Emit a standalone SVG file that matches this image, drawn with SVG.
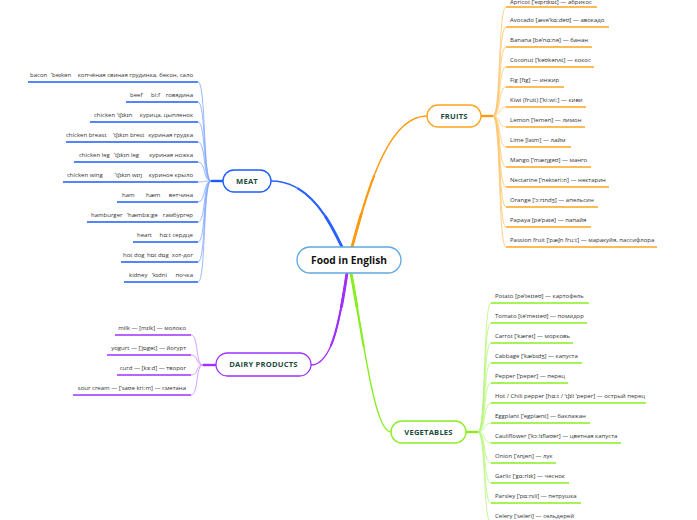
<svg xmlns="http://www.w3.org/2000/svg" width="697" height="520" viewBox="0 0 697 520">
<style>
text{font-family:"Open Sans","Noto Sans","DejaVu Sans",sans-serif;}
.leaf{font-size:6px;fill:#333;}
.cat{font-size:7.6px;font-weight:bold;fill:#1b4d3e;text-anchor:middle;letter-spacing:0.2px;}
.root{font-size:10.2px;font-weight:bold;fill:#111;text-anchor:middle;}
.node{fill:#fff;stroke-width:1.3;}
.fr{stroke:#ffa41c;}
.ve{stroke:#88ee22;}
.me{stroke:#1a5cff;}
.da{stroke:#a030ff;}
.ul{fill:none;stroke-width:1.4;}
.lc{fill:none;stroke-width:0.8;}
.end{text-anchor:end;}
.t1{stroke-dasharray:35 1000;stroke-width:2.8;}
.t2{stroke-dasharray:75 1000;stroke-width:2.1;}
.t3{stroke-width:1.4;}
</style>
<defs>
  <path id="cMeat" d="M342,247 C330,222 310,181 271,181"/>
  <path id="cFruit" d="M352,247 C370,180 390,116 427,116"/>
  <path id="cDairy" d="M347,273 C340,320 332,365 311,365"/>
  <path id="cVeg" d="M351,273 C365,350 375,432 391,432"/>
</defs>
<rect width="697" height="520" fill="#fff"/>
<g id="connectors" fill="none">
  <g stroke="#2a62ff"><use href="#cMeat" class="t1"/><use href="#cMeat" class="t2"/><use href="#cMeat" class="t3"/></g>
  <g stroke="#ff9a10"><use href="#cFruit" class="t1"/><use href="#cFruit" class="t2"/><use href="#cFruit" class="t3"/></g>
  <g stroke="#a030ff"><use href="#cDairy" class="t1"/><use href="#cDairy" class="t2"/><use href="#cDairy" class="t3"/></g>
  <g stroke="#88ee22"><use href="#cVeg" class="t1"/><use href="#cVeg" class="t2"/><use href="#cVeg" class="t3"/></g>
  <!-- hubs -->
  <path d="M481,116 H493" stroke="#ff9a10" stroke-width="2.4"/>
  <path d="M466,432 H478" stroke="#88ee22" stroke-width="2.4"/>
  <path d="M223,181 H211" stroke="#1a5cff" stroke-width="2.4"/>
  <path d="M216,365 H203" stroke="#a030ff" stroke-width="2.4"/>
  <!-- fruit leaves -->
  <g stroke="#ffc46a" class="lc">
    <path d="M493,116 C501,116 498,7 506,7"/>
    <path d="M493,116 C501,116 498,27 506,27"/>
    <path d="M493,116 C501,116 498,47 506,47"/>
    <path d="M493,116 C501,116 498,67 506,67"/>
    <path d="M493,116 C501,116 498,87 506,87"/>
    <path d="M493,116 C501,116 498,107 506,107"/>
    <path d="M493,116 C501,116 498,127 506,127"/>
    <path d="M493,116 C501,116 498,147 506,147"/>
    <path d="M493,116 C501,116 498,167 506,167"/>
    <path d="M493,116 C501,116 498,187 506,187"/>
    <path d="M493,116 C501,116 498,207 506,207"/>
    <path d="M493,116 C501,116 498,227 506,227"/>
    <path d="M493,116 C501,116 498,247 506,247"/>
  </g>
  <g stroke="#ffa41c" class="ul">
    <path d="M506,7 H597"/><path d="M506,27 H609"/><path d="M506,47 H592"/><path d="M506,67 H594"/>
    <path d="M506,87 H564"/><path d="M506,107 H586"/><path d="M506,127 H585"/><path d="M506,147 H571"/>
    <path d="M506,167 H591"/><path d="M506,187 H609"/><path d="M506,207 H598"/><path d="M506,227 H591"/>
    <path d="M506,247 H657"/>
  </g>
  <!-- vegetable leaves -->
  <g stroke="#b6f57a" class="lc">
    <path d="M478,432 C486,432 483,303 491,303"/>
    <path d="M478,432 C486,432 483,323 491,323"/>
    <path d="M478,432 C486,432 483,343 491,343"/>
    <path d="M478,432 C486,432 483,363 491,363"/>
    <path d="M478,432 C486,432 483,383 491,383"/>
    <path d="M478,432 C486,432 483,403 491,403"/>
    <path d="M478,432 C486,432 483,423 491,423"/>
    <path d="M478,432 C486,432 483,443 491,443"/>
    <path d="M478,432 C486,432 483,463 491,463"/>
    <path d="M478,432 C486,432 483,483 491,483"/>
    <path d="M478,432 C486,432 483,503 491,503"/>
    <path d="M478,432 C486,432 483,523 491,523"/>
  </g>
  <g stroke="#88ee22" class="ul">
    <path d="M491,303 H589"/><path d="M491,323 H587"/><path d="M491,343 H573"/><path d="M491,363 H582"/>
    <path d="M491,383 H568"/><path d="M491,403 H646"/><path d="M491,423 H590"/><path d="M491,443 H621"/>
    <path d="M491,463 H556"/><path d="M491,483 H569"/><path d="M491,503 H581"/><path d="M491,523 H584"/>
  </g>
  <!-- meat leaves -->
  <g stroke="#7ea6ff" class="lc">
    <path d="M211,181 C203,181 206,82 198,82"/>
    <path d="M211,181 C203,181 206,102 198,102"/>
    <path d="M211,181 C203,181 206,122 198,122"/>
    <path d="M211,181 C203,181 206,142 198,142"/>
    <path d="M211,181 C203,181 206,162 198,162"/>
    <path d="M211,181 C203,181 206,182 198,182"/>
    <path d="M211,181 C203,181 206,202 198,202"/>
    <path d="M211,181 C203,181 206,222 198,222"/>
    <path d="M211,181 C203,181 206,242 198,242"/>
    <path d="M211,181 C203,181 206,262 198,262"/>
    <path d="M211,181 C203,181 206,282 198,282"/>
  </g>
  <g stroke="#1a5cff" class="ul">
    <path d="M28,82 H198"/><path d="M126,102 H198"/><path d="M90,122 H198"/><path d="M66,142 H198"/>
    <path d="M74,162 H198"/><path d="M63,182 H198"/><path d="M117,202 H198"/><path d="M87,222 H198"/>
    <path d="M133,242 H198"/><path d="M121,262 H198"/><path d="M124,282 H198"/>
  </g>
  <!-- dairy leaves -->
  <g stroke="#c88aff" class="lc">
    <path d="M203,365 C195,365 199,335 191,335"/>
    <path d="M203,365 C195,365 199,355 191,355"/>
    <path d="M203,365 C195,365 199,375 191,375"/>
    <path d="M203,365 C195,365 199,395 191,395"/>
  </g>
  <g stroke="#a030ff" class="ul">
    <path d="M115,335 H191"/><path d="M107,355 H191"/><path d="M117,375 H191"/><path d="M73,395 H191"/>
  </g>
</g>
<g id="root">
  <rect x="297" y="247" width="104" height="26" rx="13" class="node" stroke="#5fa8e0"/>
  <text x="349" y="263.6" class="root">Food in English</text>
</g>
<g id="fruits">
  <rect x="427" y="105" width="54" height="22" rx="11" class="node fr"/>
  <text x="454" y="118.7" class="cat">FRUITS</text>
</g>
<g id="meat">
  <rect x="223" y="170" width="48" height="22" rx="11" class="node me"/>
  <text x="247" y="183.7" class="cat">MEAT</text>
</g>
<g id="dairy">
  <rect x="216" y="353" width="95" height="23" rx="11.5" class="node da"/>
  <text x="263.5" y="367.2" class="cat">DAIRY PRODUCTS</text>
</g>
<g id="vegetables">
  <rect x="391" y="421" width="75" height="22" rx="11" class="node ve"/>
  <text x="428.5" y="434.7" class="cat">VEGETABLES</text>
</g>
<g id="fruit-items">
  <text x="510" y="3.5" class="leaf">Apricot [ˈeɪprɪkɒt] — абрикос</text>
  <text x="510" y="22" class="leaf">Avocado [ævəˈkɑːdəʊ] — авокадо</text>
  <text x="510" y="42" class="leaf">Banana [bəˈnɑːnə] — банан</text>
  <text x="510" y="62" class="leaf">Coconut [ˈkəʊkənʌt] — кокос</text>
  <text x="510" y="82" class="leaf">Fig [fɪg] — инжир</text>
  <text x="510" y="102" class="leaf">Kiwi (fruit) [ˈkiːwiː] — киви</text>
  <text x="510" y="122" class="leaf">Lemon [ˈlemən] — лимон</text>
  <text x="510" y="142" class="leaf">Lime [laɪm] — лайм</text>
  <text x="510" y="162" class="leaf">Mango [ˈmæŋgəʊ] — манго</text>
  <text x="510" y="182" class="leaf">Nectarine [ˈnektəriːn] — нектарин</text>
  <text x="510" y="202" class="leaf">Orange [ˈɔːrɪndʒ] — апельсин</text>
  <text x="510" y="222" class="leaf">Papaya [pəˈpaɪə] — папайя</text>
  <text x="510" y="242" class="leaf">Passion fruit [ˈpæʃn fruːt] — маракуйя, пассифлора</text>
</g>
<g id="vegetable-items">
  <text x="495" y="298" class="leaf">Potato [pəˈteɪtəʊ] — картофель</text>
  <text x="495" y="318" class="leaf">Tomato [təˈmeɪtəʊ] — помидор</text>
  <text x="495" y="338" class="leaf">Carrot [ˈkærət] — морковь</text>
  <text x="495" y="358" class="leaf">Cabbage [ˈkæbɪdʒ] — капуста</text>
  <text x="495" y="378" class="leaf">Pepper [ˈpepər] — перец</text>
  <text x="495" y="398" class="leaf">Hot / Chili pepper [hɑːt / ˈtʃɪli ˈpepər] — острый перец</text>
  <text x="495" y="418" class="leaf">Eggplant [ˈegplænt] — баклажан</text>
  <text x="495" y="438" class="leaf">Cauliflower [ˈkɔːlɪflaʊər] — цветная капуста</text>
  <text x="495" y="458" class="leaf">Onion [ˈʌnjən] — лук</text>
  <text x="495" y="478" class="leaf">Garlic [ˈgɑːrlɪk] — чеснок</text>
  <text x="495" y="498" class="leaf">Parsley [ˈpɑːrsli] — петрушка</text>
  <text x="495" y="518" class="leaf">Celery [ˈseləri] — сельдерей</text>
</g>
<g id="meat-items">
  <text y="77" class="leaf"><tspan x="30">bacon</tspan><tspan x="51">ˈbeɪkən</tspan><tspan x="193" class="end">копчёная свиная грудинка, бекон, сало</tspan></text>
  <text y="97" class="leaf"><tspan x="130">beef</tspan><tspan x="151">biːf</tspan><tspan x="193" class="end">говядина</tspan></text>
  <text y="117" class="leaf"><tspan x="94">chicken</tspan><tspan x="117">ˈtʃɪkɪn</tspan><tspan x="193" class="end">курица, цыпленок</tspan></text>
  <text y="137" class="leaf"><tspan x="66">chicken breast</tspan><tspan x="113">ˈtʃɪkɪn brest</tspan><tspan x="193" class="end">куриная грудка</tspan></text>
  <text y="157" class="leaf"><tspan x="79">chicken leg</tspan><tspan x="114">ˈtʃɪkɪn leg</tspan><tspan x="193" class="end">куриная ножка</tspan></text>
  <text y="177" class="leaf"><tspan x="67">chicken wing</tspan><tspan x="115">ˈtʃɪkɪn wɪŋ</tspan><tspan x="193" class="end">куриное крыло</tspan></text>
  <text y="197" class="leaf"><tspan x="122">ham</tspan><tspan x="146">hæm</tspan><tspan x="193" class="end">ветчина</tspan></text>
  <text y="217" class="leaf"><tspan x="91">hamburger</tspan><tspan x="127">ˈhæmbɜːgə</tspan><tspan x="193" class="end">гамбургер</tspan></text>
  <text y="237" class="leaf"><tspan x="137">heart</tspan><tspan x="193" class="end">hɑːt сердце</tspan></text>
  <text y="257" class="leaf"><tspan x="123">hot dog</tspan><tspan x="147">hɒt dɒg</tspan><tspan x="193" class="end">хот-дог</tspan></text>
  <text y="277" class="leaf"><tspan x="129">kidney</tspan><tspan x="152">ˈkɪdni</tspan><tspan x="193" class="end">почка</tspan></text>
</g>
<g id="dairy-items">
  <text x="186" y="330" class="leaf end">milk — [mɪlk] — молоко</text>
  <text x="186" y="350" class="leaf end">yogurt — [ˈjɒgət]  — йогурт</text>
  <text x="186" y="370" class="leaf end">curd — [kɜːd] — творог</text>
  <text x="186" y="390" class="leaf end">sour cream — [ˈsaʊə kriːm] — сметана</text>
</g>
</svg>
